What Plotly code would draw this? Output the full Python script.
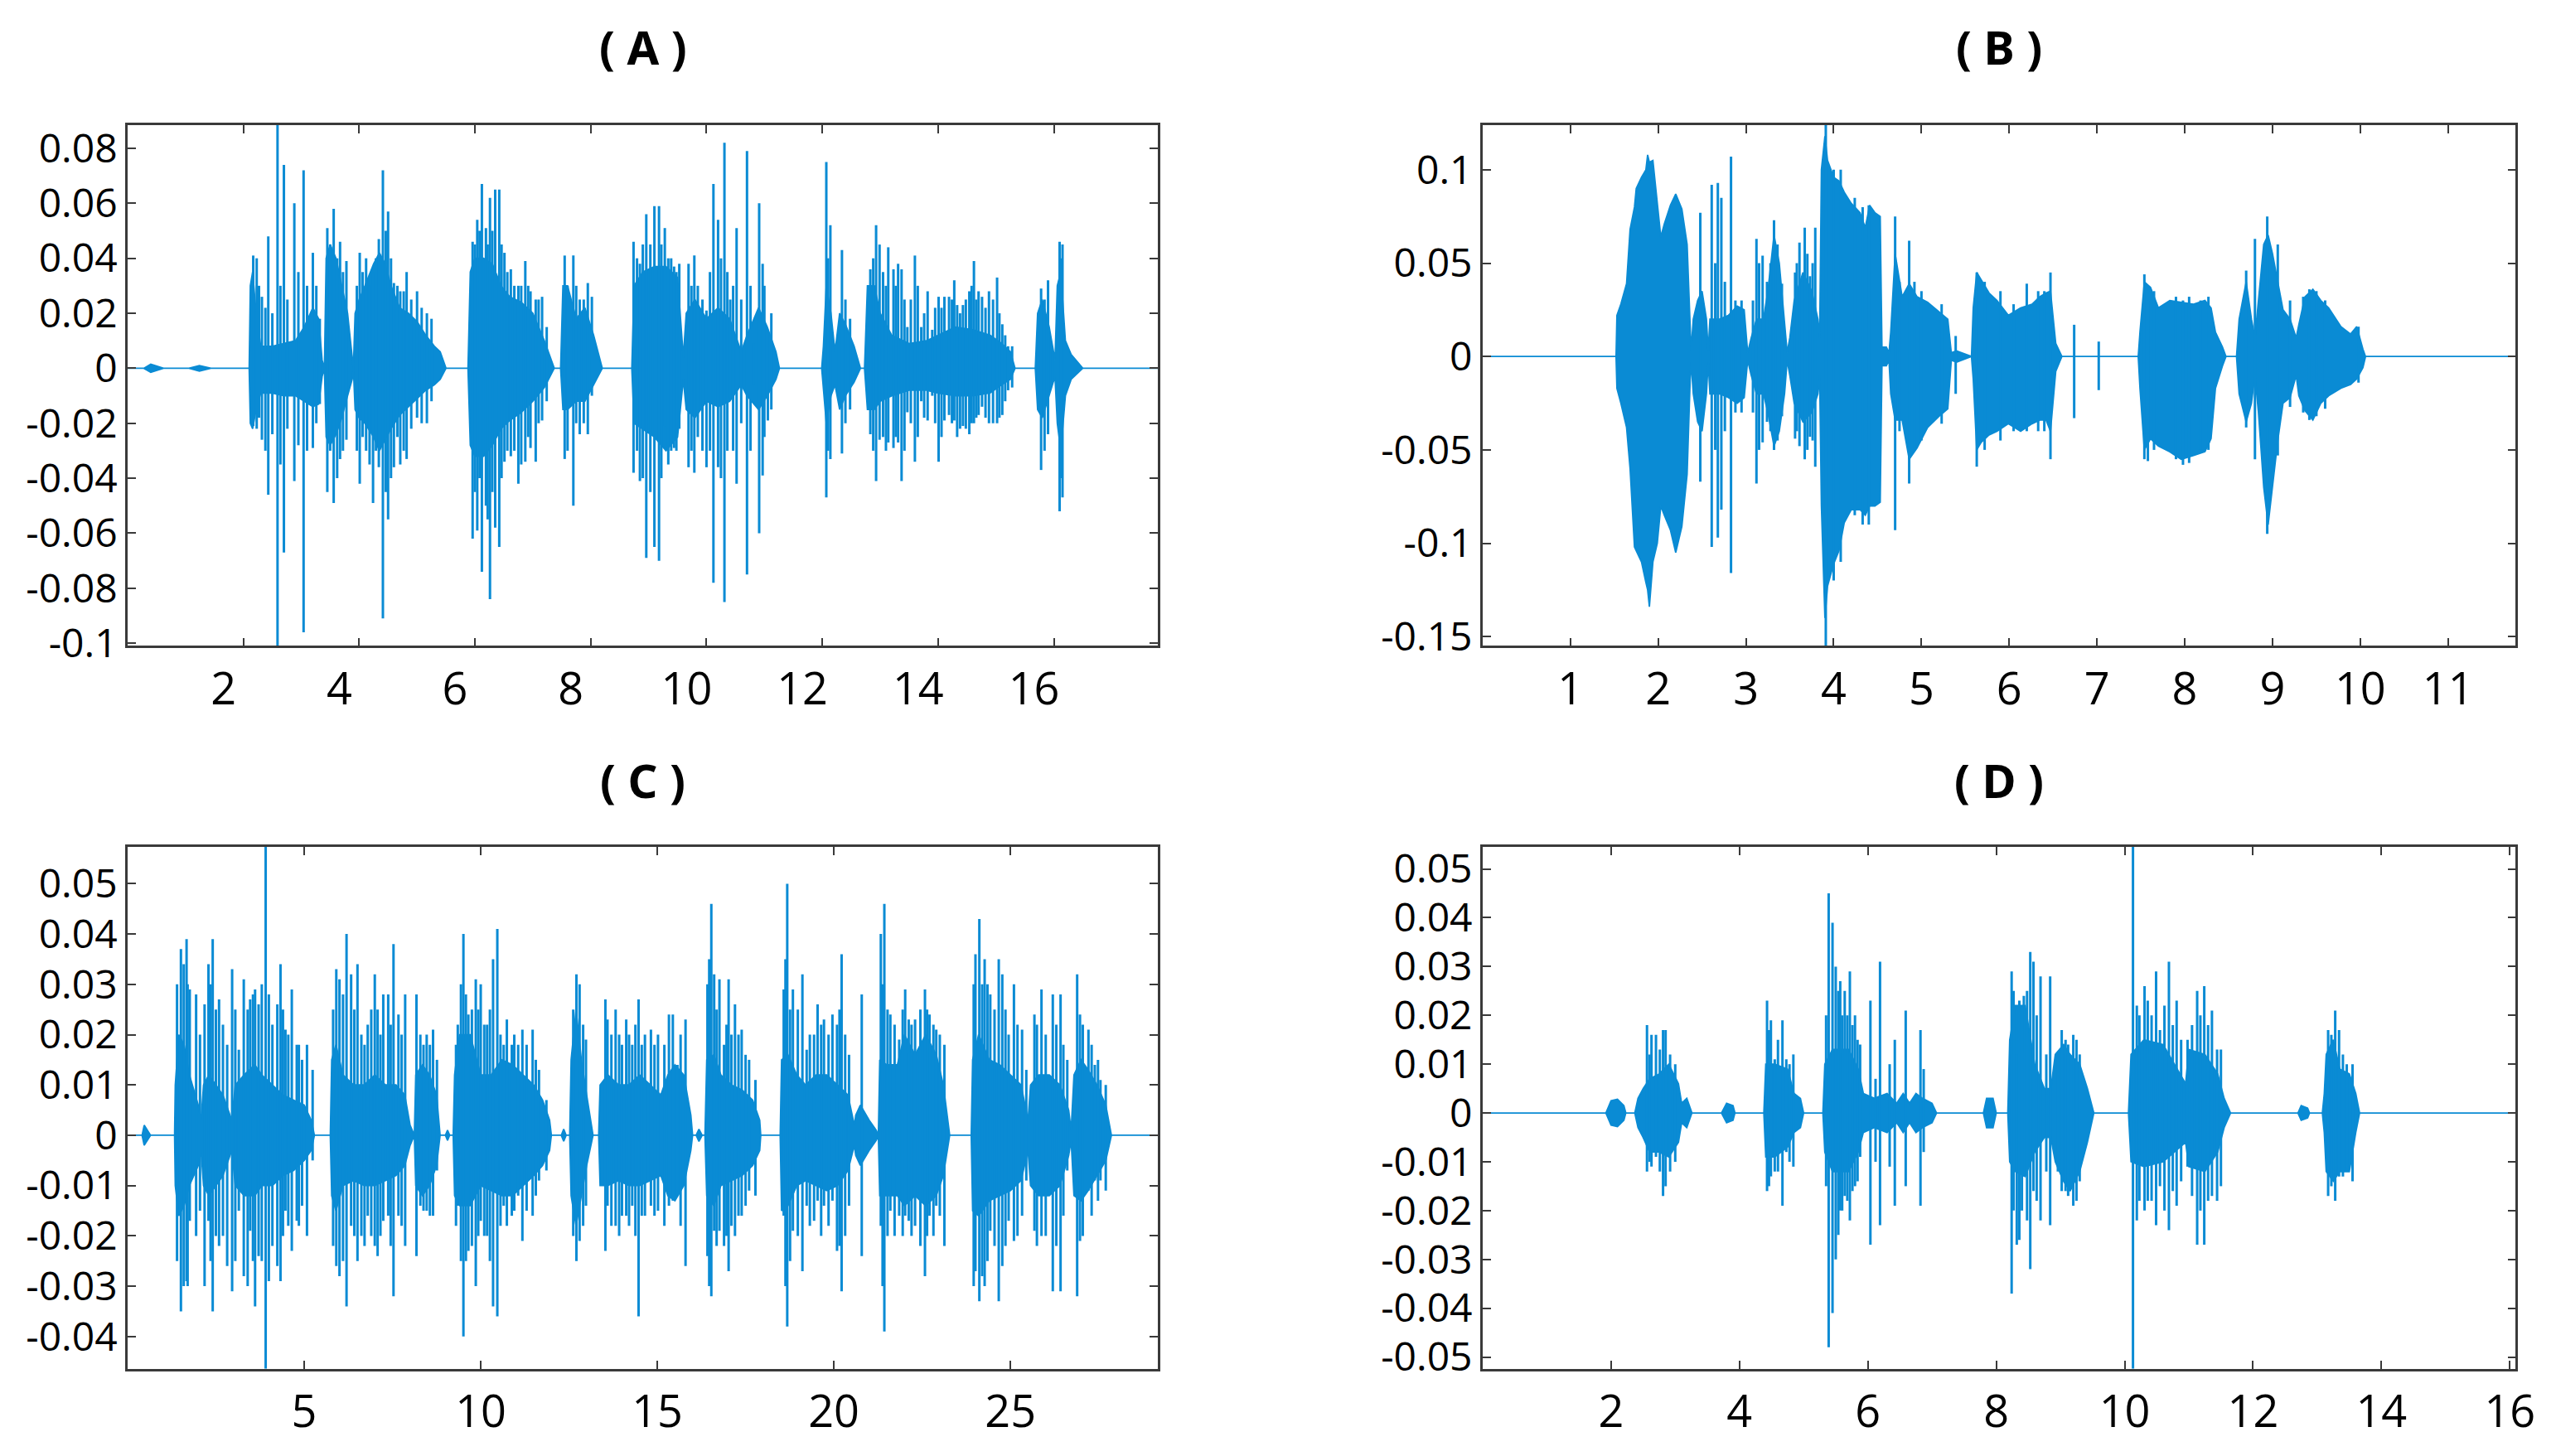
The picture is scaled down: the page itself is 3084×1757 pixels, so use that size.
import plotly.graph_objects as go
from plotly.subplots import make_subplots

BLUE = "#0A8BD4"
AXIS = "#3a3a3a"

# ---- (A) speech waveform: body envelope (s, upper, lower) ----
A_body_t = [0, 0.28, 0.40, 0.62, 1.06, 1.24, 1.44, 2.10,
            2.12, 2.16, 2.22, 2.30, 2.50, 2.70, 2.90, 3.05, 3.20, 3.30, 3.36,
            3.40, 3.43, 3.50, 3.60, 3.70, 3.80, 3.88,
            3.90, 3.93, 4.00, 4.10, 4.25, 4.35, 4.45, 4.55, 4.70, 4.85, 5.00, 5.15, 5.30, 5.40, 5.50,
            5.88, 5.92, 6.00, 6.15, 6.30, 6.45, 6.60, 6.80, 7.00, 7.20, 7.37,
            7.48, 7.52, 7.60, 7.75, 7.90, 8.05, 8.20,
            8.71, 8.75, 8.90, 9.10, 9.30, 9.50, 9.60, 9.65, 9.80, 10.00, 10.20, 10.40, 10.60, 10.70, 10.90, 11.05, 11.20, 11.26,
            11.99, 12.02, 12.07, 12.15, 12.22, 12.30, 12.40, 12.55, 12.66,
            12.73, 12.78, 12.90, 13.00, 13.20, 13.50, 13.80, 14.00, 14.30, 14.60, 14.90, 15.10, 15.25, 15.33,
            15.68, 15.72, 15.80, 15.92, 16.02, 16.06, 16.12, 16.20, 16.30, 16.50, 17.80]
A_body_hi = [0, 0, 0.0015, 0, 0, 0.001, 0, 0,
             0.030, 0.035, 0.020, 0.008, 0.008, 0.009, 0.010, 0.015, 0.022, 0.018, 0.003,
             0, 0.040, 0.045, 0.040, 0.030, 0.020, 0.004,
             0, 0.020, 0.025, 0.030, 0.038, 0.042, 0.038, 0.030, 0.022, 0.020, 0.017, 0.012, 0.008, 0.006, 0,
             0, 0.035, 0.040, 0.040, 0.038, 0.030, 0.026, 0.024, 0.020, 0.010, 0,
             0, 0.030, 0.030, 0.018, 0.022, 0.012, 0,
             0, 0.030, 0.035, 0.037, 0.037, 0.033, 0.004, 0.020, 0.025, 0.018, 0.022, 0.018, 0.006, 0.012, 0.022, 0.015, 0.006, 0,
             0, 0.008, 0.030, 0.020, 0.006, 0.020, 0.016, 0.008, 0,
             0, 0.030, 0.030, 0.020, 0.012, 0.009, 0.010, 0.012, 0.015, 0.014, 0.012, 0.009, 0.006, 0,
             0, 0.020, 0.025, 0.015, 0.003, 0.030, 0.035, 0.010, 0.005, 0, 0]
A_body_lo = [0, 0, -0.0015, 0, 0, -0.001, 0, 0,
             -0.020, -0.022, -0.015, -0.009, -0.009, -0.010, -0.010, -0.012, -0.014, -0.013, -0.003,
             0, -0.025, -0.028, -0.024, -0.018, -0.010, -0.004,
             0, -0.015, -0.018, -0.020, -0.025, -0.030, -0.026, -0.022, -0.017, -0.014, -0.011, -0.008, -0.006, -0.004, 0,
             0, -0.028, -0.032, -0.032, -0.028, -0.022, -0.019, -0.016, -0.012, -0.007, 0,
             0, -0.015, -0.015, -0.012, -0.012, -0.006, 0,
             0, -0.020, -0.022, -0.025, -0.030, -0.025, -0.004, -0.015, -0.018, -0.012, -0.014, -0.012, -0.006, -0.010, -0.015, -0.010, -0.004, 0,
             0, -0.008, -0.020, -0.010, -0.006, -0.015, -0.010, -0.005, 0,
             0, -0.015, -0.015, -0.012, -0.010, -0.008, -0.008, -0.009, -0.010, -0.010, -0.009, -0.006, -0.004, 0,
             0, -0.015, -0.018, -0.010, -0.003, -0.020, -0.030, -0.010, -0.004, 0, 0]
# (A) tall individual peaks
A_spk_t = [2.17, 2.23, 2.32, 2.43, 2.59, 2.70, 2.88, 3.04, 3.20, 3.32,
           3.45, 3.56, 3.67, 3.78,
           4.01, 4.12, 4.24, 4.34, 4.41, 4.50, 4.60, 4.71, 4.82, 5.00, 5.17, 5.25,
           5.96, 6.04, 6.12, 6.19, 6.26, 6.35, 6.42, 6.51, 6.62, 6.75, 6.87, 6.96, 7.05, 7.16,
           7.55, 7.70, 7.81, 7.95, 8.02,
           8.74, 8.85, 8.96, 9.10, 9.18, 9.28, 9.34, 9.44, 9.53, 9.69, 9.79, 10.00, 10.12, 10.20, 10.31, 10.41, 10.52, 10.70, 10.81, 10.91, 10.97, 11.06,
           12.07, 12.14, 12.24, 12.34,
           12.83, 12.93, 12.99, 13.14, 13.23, 13.31, 13.37, 13.47, 13.60, 13.71, 13.82, 13.90, 14.01, 14.11, 14.19, 14.28, 14.33, 14.43, 14.54, 14.62, 14.70, 14.76, 14.88, 15.02, 15.11, 15.21, 15.28,
           15.78, 15.90, 15.98, 16.10, 16.15]
A_spk_hi = [0.041, 0.040, 0.026, 0.048, 0.0885, 0.074, 0.060, 0.072, 0.042, 0.018,
            0.051, 0.058, 0.046, 0.039,
            0.042, 0.040, 0.035, 0.047, 0.072, 0.057, 0.031, 0.028, 0.035, 0.028, 0.020, 0.018,
            0.046, 0.054, 0.067, 0.051, 0.062, 0.065, 0.065, 0.042, 0.036, 0.030, 0.039, 0.028, 0.025, 0.026,
            0.041, 0.041, 0.025, 0.031, 0.026,
            0.046, 0.038, 0.056, 0.059, 0.059, 0.051, 0.040, 0.037, 0.038, 0.038, 0.041, 0.021, 0.067, 0.054, 0.082, 0.025, 0.051, 0.079, 0.009, 0.060, 0.038, 0.013,
            0.075, 0.052, 0.009, 0.043,
            0.036, 0.052, 0.045, 0.044, 0.036, 0.038, 0.036, 0.015, 0.041, 0.015, 0.028, 0.014, 0.026, 0.026, 0.026, 0.032, 0.023, 0.023, 0.028, 0.039, 0.028, 0.026, 0.028, 0.033, 0.016, 0.008, 0.008,
            0.029, 0.032, 0.006, 0.046, 0.045]
A_spk_lo = [-0.021, -0.022, -0.026, -0.046, -0.101, -0.067, -0.041, -0.096, -0.029, -0.013,
            -0.045, -0.049, -0.033, -0.026,
            -0.042, -0.030, -0.049, -0.036, -0.091, -0.055, -0.036, -0.035, -0.033, -0.018, -0.020, -0.012,
            -0.062, -0.059, -0.074, -0.050, -0.084, -0.058, -0.065, -0.034, -0.032, -0.042, -0.034, -0.029, -0.034, -0.019,
            -0.033, -0.050, -0.024, -0.024, -0.010,
            -0.038, -0.041, -0.069, -0.065, -0.070, -0.021, -0.035, -0.029, -0.022, -0.036, -0.038, -0.036, -0.078, -0.036, -0.085, -0.011, -0.042, -0.075, -0.006, -0.060, -0.039, -0.019,
            -0.047, -0.033, -0.007, -0.031,
            -0.024, -0.041, -0.026, -0.027, -0.029, -0.027, -0.041, -0.016, -0.034, -0.012, -0.019, -0.010, -0.034, -0.019, -0.017, -0.019, -0.025, -0.021, -0.024, -0.020, -0.017, -0.014, -0.020, -0.020, -0.017, -0.008, -0.007,
            -0.037, -0.024, -0.005, -0.052, -0.047]
# (A) smaller peaks inside the voiced parts
A_pk2_t = [2.27, 2.38, 2.50, 2.64, 2.76, 2.95, 3.10, 3.26,
           3.50, 3.62, 3.72,
           3.96, 4.06, 4.18, 4.29, 4.46, 4.55, 4.66, 4.77, 4.90, 5.08,
           6.00, 6.08, 6.22, 6.30, 6.46, 6.56, 6.68, 6.80, 6.92, 7.10, 7.24,
           7.60, 7.75, 7.88,
           8.80, 8.90, 9.03, 9.22, 9.39, 9.48, 9.74, 9.85, 9.93, 10.06, 10.25, 10.36, 10.46, 10.60, 10.76, 11.00, 11.12,
           12.10, 12.40, 12.48,
           12.88, 13.05, 13.10, 13.27, 13.42, 13.53, 13.65, 13.76, 13.95, 14.06, 14.24, 14.38, 14.48, 14.58, 14.66, 14.82, 14.95, 15.06, 15.16,
           15.84, 16.12]
A_pk2_hi = [0.030, 0.022, 0.020, 0.030, 0.025, 0.035, 0.030, 0.030,
            0.045, 0.040, 0.035,
            0.030, 0.035, 0.030, 0.040, 0.050, 0.040, 0.030, 0.028, 0.025, 0.022,
            0.045, 0.050, 0.045, 0.050, 0.045, 0.035, 0.030, 0.030, 0.030, 0.025, 0.015,
            0.030, 0.030, 0.025,
            0.040, 0.045, 0.045, 0.045, 0.040, 0.035, 0.030, 0.030, 0.025, 0.035, 0.040, 0.035, 0.030, 0.025, 0.030, 0.030, 0.020,
            0.040, 0.025, 0.018,
            0.040, 0.035, 0.030, 0.030, 0.025, 0.025, 0.030, 0.020, 0.022, 0.022, 0.025, 0.020, 0.025, 0.030, 0.025, 0.022, 0.025, 0.020, 0.012,
            0.025, 0.040]
A_pk2_lo = [-0.018, -0.030, -0.024, -0.035, -0.022, -0.028, -0.030, -0.020,
            -0.030, -0.040, -0.030,
            -0.030, -0.025, -0.035, -0.030, -0.045, -0.040, -0.025, -0.030, -0.022, -0.020,
            -0.045, -0.040, -0.055, -0.045, -0.040, -0.030, -0.030, -0.035, -0.025, -0.020, -0.012,
            -0.030, -0.020, -0.020,
            -0.030, -0.040, -0.045, -0.040, -0.030, -0.030, -0.030, -0.025, -0.030, -0.030, -0.040, -0.030, -0.030, -0.020, -0.030, -0.025, -0.015,
            -0.030, -0.020, -0.015,
            -0.030, -0.025, -0.030, -0.025, -0.030, -0.020, -0.025, -0.018, -0.020, -0.025, -0.020, -0.022, -0.022, -0.020, -0.018, -0.018, -0.020, -0.018, -0.012,
            -0.030, -0.040]

# ---- (B) ----
B_body_t = [0, 1.52,
            1.53, 1.575, 1.64, 1.68, 1.73, 1.75, 1.81, 1.86, 1.88, 1.90, 1.94, 1.99, 2.03, 2.07, 2.14, 2.20, 2.27, 2.33, 2.365, 2.375,
            2.40, 2.45, 2.50, 2.55, 2.57,
            2.59, 2.70, 2.80, 2.90, 2.98, 3.02,
            3.06, 3.12, 3.20, 3.25, 3.32, 3.38, 3.44, 3.47,
            3.50, 3.55, 3.65, 3.75, 3.82, 3.84,
            3.86, 3.90, 3.93, 4.00, 4.06, 4.12, 4.20, 4.30, 4.36, 4.41, 4.47, 4.53, 4.55, 4.60, 4.63,
            4.65, 4.70, 4.78, 4.86, 4.95, 5.07, 5.20, 5.30, 5.34, 5.40,
            5.57, 5.59, 5.63, 5.68, 5.77, 5.86, 5.99, 6.13, 6.26, 6.35, 6.42, 6.47, 6.53, 6.60,
            7.47, 7.49, 7.54, 7.61, 7.70, 7.83, 7.96, 8.10, 8.23, 8.30, 8.35, 8.43, 8.47,
            8.59, 8.62, 8.70, 8.76, 8.80, 8.84, 8.90, 8.95, 9.00, 9.06, 9.12, 9.20, 9.27, 9.30, 9.37, 9.46, 9.55, 9.64, 9.78, 9.89, 9.96, 10.03, 10.06, 11.77]
B_body_hi = [0, 0,
             0.022, 0.028, 0.039, 0.068, 0.080, 0.090, 0.096, 0.100, 0.108, 0.104, 0.105, 0.083, 0.064, 0.071, 0.081, 0.087, 0.079, 0.060, 0.013, 0.003,
             0.020, 0.030, 0.035, 0.020, 0.003,
             0.020, 0.020, 0.022, 0.027, 0.025, 0.002,
             0.010, 0.020, 0.020, 0.035, 0.065, 0.050, 0.020, 0.002,
             0.010, 0.030, 0.045, 0.035, 0.020, 0.010,
             0.100, 0.118, 0.105, 0.096, 0.094, 0.088, 0.082, 0.077, 0.069, 0.081, 0.077, 0.075, 0.005, 0.005, 0.002,
             0.013, 0.055, 0.032, 0.039, 0.032, 0.029, 0.024, 0.020, 0.002, 0.003,
             0, 0.026, 0.045, 0.041, 0.034, 0.030, 0.022, 0.026, 0.028, 0.032, 0.034, 0.035, 0.007, 0,
             0, 0.013, 0.040, 0.037, 0.026, 0.030, 0.029, 0.028, 0.030, 0.026, 0.013, 0.005, 0,
             0, 0.020, 0.040, 0.020, 0.010, 0.030, 0.060, 0.065, 0.055, 0.040, 0.025, 0.020, 0.010, 0.017, 0.032, 0.036, 0.030, 0.026, 0.016, 0.012, 0.016, 0.004, 0, 0]
B_body_lo = [0, 0,
             -0.017, -0.025, -0.038, -0.060, -0.102, -0.104, -0.110, -0.121, -0.125, -0.134, -0.110, -0.100, -0.080, -0.085, -0.093, -0.105, -0.091, -0.063, -0.012, -0.003,
             -0.020, -0.035, -0.040, -0.020, -0.003,
             -0.020, -0.020, -0.022, -0.025, -0.022, -0.002,
             -0.010, -0.020, -0.020, -0.030, -0.048, -0.040, -0.020, -0.002,
             -0.010, -0.025, -0.035, -0.030, -0.020, -0.010,
             -0.080, -0.140, -0.123, -0.111, -0.104, -0.089, -0.082, -0.082, -0.085, -0.080, -0.080, -0.078, -0.005, -0.005, -0.002,
             -0.020, -0.034, -0.034, -0.055, -0.049, -0.038, -0.032, -0.028, -0.002, -0.003,
             0, -0.012, -0.050, -0.046, -0.042, -0.040, -0.036, -0.040, -0.036, -0.034, -0.034, -0.040, -0.008, 0,
             0, -0.017, -0.050, -0.044, -0.048, -0.051, -0.055, -0.053, -0.051, -0.044, -0.017, -0.005, 0,
             0, -0.020, -0.035, -0.025, -0.010, -0.030, -0.070, -0.090, -0.070, -0.045, -0.025, -0.022, -0.010, -0.021, -0.029, -0.034, -0.025, -0.021, -0.017, -0.015, -0.012, -0.006, 0, 0]
B_spk_t = [2.48, 2.61, 2.68, 2.72, 2.83, 3.12, 3.19, 3.32, 3.41, 3.56, 3.61, 3.67, 3.73, 3.79, 3.91, 4.00, 4.40,
           4.70, 4.86, 5.23, 5.39, 5.63, 6.20, 6.47, 6.74, 7.02, 7.54, 7.58, 7.98, 8.70, 8.80, 8.94, 9.06, 9.20]
B_spk_hi = [0.077, 0.092, 0.093, 0.085, 0.107, 0.063, 0.054, 0.073, 0.039, 0.045, 0.061, 0.069, 0.043, 0.069, 0.124, 0.100, 0.081,
            0.075, 0.062, 0.028, 0.011, 0.045, 0.039, 0.045, 0.017, 0.008, 0.044, 0.030, 0.030, 0.046, 0.063, 0.075, 0.060, 0.030]
B_spk_lo = [-0.067, -0.102, -0.097, -0.082, -0.116, -0.068, -0.046, -0.050, -0.032, -0.044, -0.048, -0.055, -0.043, -0.059, -0.155, -0.120, -0.090,
            -0.093, -0.068, -0.036, -0.020, -0.059, -0.040, -0.055, -0.033, -0.018, -0.055, -0.056, -0.058, -0.038, -0.055, -0.095, -0.053, -0.027]
B_pk2_t = [2.65, 2.76, 2.88, 2.95, 3.08, 3.15, 3.24, 3.28, 3.36, 3.58, 3.70, 3.76, 4.08, 4.24, 4.33,
           4.75, 4.92, 5.00, 5.72, 5.90, 6.05, 6.33, 6.40, 7.65, 7.90, 8.05, 8.18, 8.27, 9.35, 9.42, 9.50, 9.60, 9.98]
B_pk2_hi = [0.050, 0.040, 0.030, 0.030, 0.030, 0.050, 0.040, 0.050, 0.060, 0.050, 0.055, 0.050, 0.100, 0.085, 0.080,
            0.040, 0.040, 0.035, 0.040, 0.035, 0.028, 0.035, 0.035, 0.035, 0.032, 0.032, 0.030, 0.032, 0.032, 0.036, 0.035, 0.030, 0.016]
B_pk2_lo = [-0.050, -0.040, -0.030, -0.030, -0.030, -0.050, -0.035, -0.040, -0.045, -0.040, -0.050, -0.045, -0.110, -0.085, -0.090,
            -0.040, -0.050, -0.045, -0.050, -0.045, -0.040, -0.040, -0.040, -0.050, -0.055, -0.057, -0.050, -0.050, -0.030, -0.034, -0.032, -0.028, -0.014]

# ---- (C) ----
C_body_t = [0, 0.41, 0.47, 0.65, 1.33,
            1.35, 1.45, 1.60, 1.75, 2.00, 2.08, 2.15, 2.30, 2.50, 2.70, 2.95, 3.05, 3.30, 3.60, 3.80, 4.10, 4.40, 4.70, 5.00, 5.20, 5.29,
            5.74, 5.78, 5.90, 6.10, 6.40, 6.70, 7.00, 7.30, 7.60, 7.85, 8.00,
            8.12, 8.16, 8.35, 8.55, 8.75, 8.85,
            9.00, 9.06, 9.12,
            9.22, 9.26, 9.40, 9.70, 10.00, 10.30, 10.60, 10.90, 11.20, 11.50, 11.75, 11.95, 12.00,
            12.28, 12.35, 12.42,
            12.52, 12.56, 12.70, 12.85, 13.00, 13.18,
            13.34, 13.38, 13.60, 13.90, 14.20, 14.50, 14.80, 15.10, 15.30, 15.50, 15.75, 15.95, 16.00,
            16.10, 16.18, 16.27,
            16.35, 16.40, 16.60, 16.80, 17.10, 17.40, 17.70, 17.90, 17.93,
            18.48, 18.52, 18.70, 18.95, 19.20, 19.50, 19.80, 20.10, 20.40, 20.58,
            20.62, 20.75, 21.00, 21.20, 21.26,
            21.30, 21.50, 21.80, 22.00, 22.30, 22.60, 22.90, 23.10, 23.28,
            23.89, 23.93, 24.10, 24.40, 24.70, 25.00, 25.30, 25.50,
            25.57, 25.80, 26.10, 26.40, 26.65, 26.72,
            26.80, 27.00, 27.20, 27.45, 27.70, 27.86, 29.18]
C_body_hi = [0, 0, 0.002, 0, 0,
             0.010, 0.020, 0.018, 0.012, 0.006, 0.003, 0.010, 0.012, 0.010, 0.008, 0.003, 0.010, 0.012, 0.014, 0.012, 0.010, 0.008, 0.007, 0.006, 0.003, 0,
             0, 0.015, 0.018, 0.012, 0.010, 0.010, 0.012, 0.010, 0.010, 0.008, 0.002,
             0, 0.012, 0.014, 0.012, 0.008, 0,
             0, 0.001, 0,
             0, 0.012, 0.020, 0.020, 0.012, 0.012, 0.015, 0.014, 0.012, 0.010, 0.007, 0.003, 0,
             0, 0.0012, 0,
             0, 0.015, 0.025, 0.015, 0.008, 0,
             0, 0.010, 0.012, 0.010, 0.010, 0.012, 0.010, 0.008, 0.012, 0.014, 0.012, 0.004, 0,
             0, 0.0012, 0,
             0, 0.015, 0.016, 0.012, 0.010, 0.009, 0.007, 0.003, 0,
             0, 0.015, 0.016, 0.012, 0.010, 0.012, 0.012, 0.010, 0.008, 0.002,
             0.004, 0.006, 0.003, 0.001, 0,
             0.015, 0.014, 0.014, 0.020, 0.016, 0.020, 0.016, 0.010, 0,
             0, 0.015, 0.020, 0.015, 0.014, 0.012, 0.010, 0.003,
             0.010, 0.012, 0.012, 0.010, 0.005, 0.001,
             0.012, 0.015, 0.013, 0.010, 0.006, 0, 0]
C_body_lo = [0, 0, -0.002, 0, 0,
             -0.010, -0.016, -0.014, -0.010, -0.006, -0.003, -0.010, -0.012, -0.010, -0.008, -0.003, -0.010, -0.012, -0.012, -0.010, -0.010, -0.008, -0.007, -0.005, -0.003, 0,
             0, -0.012, -0.015, -0.010, -0.009, -0.010, -0.010, -0.009, -0.008, -0.006, -0.002,
             0, -0.010, -0.012, -0.010, -0.006, 0,
             0, -0.001, 0,
             0, -0.012, -0.014, -0.014, -0.010, -0.011, -0.012, -0.012, -0.010, -0.008, -0.006, -0.003, 0,
             0, -0.0012, 0,
             0, -0.012, -0.018, -0.012, -0.006, 0,
             0, -0.010, -0.010, -0.009, -0.010, -0.010, -0.009, -0.008, -0.012, -0.013, -0.010, -0.003, 0,
             0, -0.0012, 0,
             0, -0.012, -0.014, -0.010, -0.009, -0.008, -0.006, -0.003, 0,
             0, -0.015, -0.014, -0.010, -0.009, -0.010, -0.011, -0.010, -0.007, -0.002,
             -0.004, -0.006, -0.003, -0.001, 0,
             -0.012, -0.012, -0.012, -0.014, -0.012, -0.014, -0.012, -0.008, 0,
             0, -0.015, -0.016, -0.013, -0.012, -0.011, -0.009, -0.003,
             -0.010, -0.012, -0.012, -0.010, -0.004, -0.001,
             -0.012, -0.013, -0.011, -0.008, -0.005, 0, 0]
C_spk_t = [1.51, 1.59, 1.67, 1.76, 1.94, 2.18, 2.29, 2.41, 2.59, 2.82, 2.96, 3.15, 3.29, 3.47, 3.61, 3.71, 3.91, 4.00, 4.24, 4.33, 4.47, 4.65, 4.79, 4.94, 5.08, 5.24,
           5.91, 6.00, 6.20, 6.33, 6.51, 6.71, 6.80, 7.00, 7.08, 7.24, 7.38, 7.53, 7.67, 7.86, 8.18, 8.29, 8.47, 8.65, 8.76,
           9.35, 9.51, 9.65, 9.86, 10.00, 10.18, 10.35, 10.47, 10.65, 10.74, 10.88, 11.06, 11.18, 11.47, 11.65, 11.86,
           12.71, 12.80, 12.98,
           13.53, 13.59, 13.82, 14.00, 14.12, 14.29, 14.47, 14.65, 14.82, 15.02, 15.33, 15.44, 15.57, 15.80,
           16.42, 16.53, 16.61, 16.76, 16.89, 17.02, 17.20, 17.39, 17.60, 17.78,
           18.58, 18.68, 18.84, 19.11, 19.23, 19.44, 19.54, 19.72, 19.96, 20.09, 20.22, 20.43, 20.79,
           21.33, 21.43, 21.60, 21.85, 22.02, 22.12, 22.30, 22.58, 22.71, 22.90, 23.13,
           24.01, 24.12, 24.27, 24.43, 24.67, 24.77, 24.95, 25.10, 25.33, 25.45,
           25.68, 25.88, 26.20, 26.42, 26.61,
           26.89, 26.97, 27.21, 27.39, 27.55, 27.70]
C_spk_hi = [0.037, 0.034, 0.039, 0.029, 0.028, 0.026, 0.034, 0.039, 0.027, 0.018, 0.033, 0.017, 0.031, 0.027, 0.029, 0.026, 0.0573, 0.028, 0.026, 0.034, 0.021, 0.029, 0.018, 0.015, 0.018, 0.013,
            0.033, 0.031, 0.040, 0.032, 0.034, 0.018, 0.022, 0.032, 0.025, 0.028, 0.028, 0.038, 0.024, 0.028, 0.028, 0.020, 0.020, 0.021, 0.015,
            0.022, 0.040, 0.024, 0.031, 0.030, 0.022, 0.035, 0.041, 0.018, 0.023, 0.018, 0.018, 0.021, 0.021, 0.013, 0.007,
            0.032, 0.030, 0.019,
            0.027, 0.023, 0.025, 0.018, 0.023, 0.018, 0.027, 0.020, 0.021, 0.020, 0.024, 0.024, 0.014, 0.023,
            0.030, 0.046, 0.032, 0.031, 0.018, 0.031, 0.026, 0.021, 0.015, 0.011,
            0.029, 0.050, 0.029, 0.032, 0.017, 0.020, 0.026, 0.023, 0.024, 0.022, 0.036, 0.016, 0.028,
            0.040, 0.046, 0.024, 0.019, 0.029, 0.023, 0.023, 0.029, 0.024, 0.021, 0.018,
            0.036, 0.043, 0.035, 0.028, 0.035, 0.032, 0.020, 0.030, 0.021, 0.013,
            0.024, 0.029, 0.028, 0.028, 0.015,
            0.032, 0.024, 0.021, 0.014, 0.011, 0.010]
C_spk_lo = [-0.035, -0.030, -0.029, -0.017, -0.020, -0.030, -0.017, -0.035, -0.022, -0.026, -0.031, -0.015, -0.028, -0.019, -0.034, -0.024, -0.0464, -0.029, -0.026, -0.029, -0.015, -0.023, -0.017, -0.014, -0.020, -0.005,
            -0.026, -0.028, -0.034, -0.018, -0.025, -0.022, -0.016, -0.022, -0.024, -0.017, -0.016, -0.032, -0.016, -0.022, -0.024, -0.014, -0.015, -0.016, -0.007,
            -0.014, -0.040, -0.023, -0.030, -0.017, -0.020, -0.034, -0.036, -0.014, -0.018, -0.016, -0.012, -0.021, -0.016, -0.009, -0.007,
            -0.025, -0.021, -0.014,
            -0.023, -0.014, -0.018, -0.016, -0.016, -0.014, -0.036, -0.016, -0.014, -0.015, -0.014, -0.013, -0.012, -0.026,
            -0.024, -0.032, -0.019, -0.019, -0.022, -0.027, -0.020, -0.016, -0.011, -0.012,
            -0.016, -0.038, -0.019, -0.027, -0.014, -0.017, -0.013, -0.014, -0.013, -0.023, -0.031, -0.014, -0.024,
            -0.018, -0.039, -0.015, -0.016, -0.016, -0.017, -0.018, -0.028, -0.016, -0.014, -0.022,
            -0.027, -0.033, -0.030, -0.019, -0.033, -0.026, -0.017, -0.021, -0.016, -0.009,
            -0.019, -0.020, -0.031, -0.031, -0.007,
            -0.032, -0.021, -0.011, -0.009, -0.009, -0.011]
C_pk2_t = [1.40, 1.70, 2.05, 2.35, 2.50, 2.70, 3.05, 3.40, 3.55, 3.80, 4.10, 4.40, 4.55, 4.85,
           5.82, 6.10, 6.42, 6.62, 6.90, 7.16, 7.45, 7.76, 8.38, 8.56,
           9.30, 9.44, 9.58, 9.75, 9.93, 10.10, 10.26, 10.56, 10.95, 11.30, 11.56,
           12.62, 12.90, 13.70, 13.92, 14.20, 14.38, 14.56, 14.92, 15.20, 15.66,
           16.47, 16.68, 16.96, 17.10, 17.30, 17.50,
           18.63, 18.76, 18.98, 19.32, 19.64, 19.85, 20.16, 20.32,
           21.38, 21.52, 21.72, 21.95, 22.20, 22.45, 22.64, 22.82, 23.00,
           23.96, 24.20, 24.35, 24.55, 24.86, 25.20, 25.75, 26.00, 26.30, 26.50, 27.05, 27.30, 27.48]
C_pk2_hi = [0.030, 0.030, 0.020, 0.030, 0.025, 0.022, 0.025, 0.025, 0.028, 0.030, 0.022, 0.025, 0.020, 0.018,
            0.025, 0.028, 0.025, 0.020, 0.025, 0.020, 0.022, 0.020, 0.018, 0.018,
            0.018, 0.030, 0.028, 0.025, 0.025, 0.022, 0.025, 0.020, 0.020, 0.018, 0.015,
            0.025, 0.022, 0.020, 0.020, 0.020, 0.022, 0.018, 0.018, 0.018, 0.020,
            0.035, 0.025, 0.022, 0.020, 0.020, 0.016,
            0.035, 0.025, 0.025, 0.020, 0.022, 0.020, 0.025, 0.020,
            0.030, 0.025, 0.022, 0.025, 0.022, 0.025, 0.025, 0.022, 0.020,
            0.030, 0.030, 0.030, 0.025, 0.025, 0.022, 0.022, 0.020, 0.022, 0.018, 0.022, 0.018, 0.015]
C_pk2_lo = [-0.025, -0.030, -0.015, -0.025, -0.020, -0.020, -0.025, -0.030, -0.025, -0.025, -0.022, -0.020, -0.018, -0.018,
            -0.022, -0.025, -0.020, -0.020, -0.020, -0.020, -0.022, -0.018, -0.015, -0.016,
            -0.018, -0.025, -0.025, -0.022, -0.020, -0.020, -0.025, -0.018, -0.015, -0.015, -0.012,
            -0.020, -0.018, -0.018, -0.020, -0.018, -0.020, -0.016, -0.016, -0.018, -0.018,
            -0.030, -0.022, -0.020, -0.018, -0.016, -0.014,
            -0.030, -0.025, -0.020, -0.018, -0.020, -0.018, -0.022, -0.020,
            -0.030, -0.020, -0.020, -0.020, -0.020, -0.022, -0.020, -0.020, -0.016,
            -0.030, -0.028, -0.025, -0.022, -0.022, -0.020, -0.022, -0.020, -0.022, -0.016, -0.020, -0.016, -0.013]

# ---- (D) ----
D_body_t = [0, 1.92, 2.00, 2.10, 2.20, 2.23,
            2.37, 2.42, 2.50, 2.60, 2.75, 2.90, 3.05, 3.10, 3.18, 3.26,
            3.72, 3.80, 3.90, 3.93,
            4.38, 4.41, 4.55, 4.75, 4.85, 4.95, 5.00,
            5.30, 5.33, 5.45, 5.70, 5.85, 5.93, 6.10, 6.30, 6.45, 6.55, 6.65, 6.75, 6.85, 7.00, 7.07,
            7.80, 7.85, 7.95, 8.00,
            8.18, 8.21, 8.30, 8.45, 8.60, 8.75, 8.85, 8.92, 9.05, 9.15, 9.30, 9.42, 9.52,
            10.06, 10.10, 10.30, 10.60, 10.95, 11.00, 11.25, 11.45, 11.55, 11.65,
            12.70, 12.75, 12.85, 12.88,
            13.08, 13.11, 13.14, 13.25, 13.35, 13.50, 13.60, 13.66, 16.09]
D_body_hi = [0, 0, 0.0025, 0.0028, 0.0015, 0,
             0, 0.003, 0.005, 0.007, 0.008, 0.010, 0.006, 0.002, 0.003, 0,
             0, 0.002, 0.0015, 0,
             0, 0.010, 0.010, 0.009, 0.004, 0.003, 0,
             0, 0.010, 0.013, 0.013, 0.009, 0.004, 0.003, 0.004, 0.002, 0.004, 0.002, 0.004, 0.003, 0.002, 0,
             0, 0.003, 0.003, 0,
             0, 0.015, 0.022, 0.022, 0.010, 0.005, 0.005, 0.012, 0.014, 0.012, 0.010, 0.005, 0,
             0, 0.012, 0.015, 0.014, 0.006, 0.013, 0.012, 0.008, 0.003, 0,
             0, 0.0015, 0.001, 0,
             0, 0.004, 0.012, 0.015, 0.009, 0.008, 0.004, 0, 0]
D_body_lo = [0, 0, -0.0025, -0.0028, -0.0015, 0,
             0, -0.003, -0.005, -0.008, -0.008, -0.009, -0.006, -0.002, -0.003, 0,
             0, -0.002, -0.0015, 0,
             0, -0.009, -0.009, -0.007, -0.004, -0.003, 0,
             0, -0.008, -0.012, -0.012, -0.008, -0.004, -0.003, -0.004, -0.002, -0.004, -0.002, -0.004, -0.003, -0.002, 0,
             0, -0.003, -0.003, 0,
             0, -0.010, -0.012, -0.013, -0.008, -0.005, -0.005, -0.010, -0.014, -0.016, -0.012, -0.006, 0,
             0, -0.010, -0.011, -0.010, -0.006, -0.011, -0.012, -0.008, -0.003, 0,
             0, -0.0015, -0.001, 0,
             0, -0.004, -0.012, -0.014, -0.012, -0.012, -0.004, 0, 0]
D_spk_t = [2.56, 2.63, 2.70, 2.81, 2.85, 3.00,
           4.43, 4.49, 4.55, 4.67, 4.73, 4.84,
           5.39, 5.45, 5.57, 5.64, 5.72, 5.80, 5.88, 6.04, 6.12, 6.19, 6.34, 6.42, 6.59, 6.82, 6.87,
           8.24, 8.32, 8.36, 8.43, 8.53, 8.58, 8.69, 8.84, 8.96, 9.02, 9.20, 9.25,
           10.13, 10.19, 10.31, 10.36, 10.49, 10.55, 10.69, 10.81, 10.98, 11.13, 11.24, 11.36, 11.44, 11.50,
           13.13, 13.17, 13.28, 13.34, 13.46, 13.55]
D_spk_hi = [0.018, 0.016, 0.016, 0.017, 0.017, 0.010,
            0.023, 0.019, 0.011, 0.019, 0.011, 0.012,
            0.045, 0.039, 0.027, 0.025, 0.029, 0.020, 0.014, 0.023, 0.007, 0.031, 0.010, 0.015, 0.021, 0.017, 0.009,
            0.029, 0.012, 0.023, 0.024, 0.033, 0.031, 0.028, 0.028, 0.012, 0.017, 0.016, 0.015,
            0.0545, 0.022, 0.026, 0.023, 0.029, 0.017, 0.031, 0.023, 0.015, 0.025, 0.026, 0.021, 0.013, 0.013,
            0.004, 0.017, 0.021, 0.017, 0.010, 0.010]
D_spk_lo = [-0.012, -0.011, -0.009, -0.017, -0.015, -0.010,
            -0.016, -0.013, -0.012, -0.019, -0.008, -0.011,
            -0.048, -0.041, -0.020, -0.017, -0.022, -0.015, -0.009, -0.027, -0.010, -0.023, -0.011, -0.019, -0.015, -0.019, -0.008,
            -0.037, -0.027, -0.026, -0.013, -0.032, -0.016, -0.022, -0.023, -0.012, -0.016, -0.019, -0.018,
            -0.0524, -0.022, -0.020, -0.018, -0.023, -0.015, -0.024, -0.019, -0.011, -0.027, -0.027, -0.017, -0.018, -0.015,
            -0.004, -0.017, -0.018, -0.013, -0.012, -0.014]
D_pk2_t = [2.60, 2.76, 2.92, 4.46, 4.60, 4.78,
           5.35, 5.50, 5.54, 5.60, 5.68, 5.76, 5.84,
           8.27, 8.40, 8.48, 8.63, 8.78, 9.08, 9.12, 9.30,
           10.23, 10.42, 10.62, 10.75, 10.88, 11.05, 11.18, 11.30,
           13.22, 13.40]
D_pk2_hi = [0.012, 0.013, 0.012, 0.017, 0.015, 0.010,
            0.020, 0.030, 0.025, 0.020, 0.020, 0.018, 0.015,
            0.025, 0.022, 0.025, 0.020, 0.012, 0.015, 0.014, 0.012,
            0.020, 0.020, 0.022, 0.018, 0.015, 0.018, 0.020, 0.018,
            0.016, 0.012]
D_pk2_lo = [-0.010, -0.012, -0.012, -0.015, -0.012, -0.010,
            -0.015, -0.030, -0.025, -0.020, -0.018, -0.016, -0.014,
            -0.020, -0.020, -0.022, -0.018, -0.012, -0.016, -0.017, -0.014,
            -0.018, -0.018, -0.020, -0.016, -0.014, -0.017, -0.020, -0.018,
            -0.015, -0.013]

# axis ranges and ticks
x_ranges = {"A": [0, 17.8], "B": [0, 11.77], "C": [0, 29.18], "D": [0, 16.09]}
y_ranges = {"A": [-0.101, 0.0885], "B": [-0.155, 0.124], "C": [-0.0464, 0.0573], "D": [-0.0524, 0.0545]}
x_ticks = {"A": [2, 4, 6, 8, 10, 12, 14, 16], "B": list(range(1, 12)),
           "C": [5, 10, 15, 20, 25], "D": [2, 4, 6, 8, 10, 12, 14, 16]}
y_ticks = {"A": [0.08, 0.06, 0.04, 0.02, 0, -0.02, -0.04, -0.06, -0.08, -0.1],
           "B": [0.1, 0.05, 0, -0.05, -0.1, -0.15],
           "C": [0.05, 0.04, 0.03, 0.02, 0.01, 0, -0.01, -0.02, -0.03, -0.04],
           "D": [0.05, 0.04, 0.03, 0.02, 0.01, 0, -0.01, -0.02, -0.03, -0.04, -0.05]}

panels = {
    "A": (1, 1, A_body_t, A_body_hi, A_body_lo, [(A_spk_t, A_spk_hi, A_spk_lo), (A_pk2_t, A_pk2_hi, A_pk2_lo)]),
    "B": (1, 2, B_body_t, B_body_hi, B_body_lo, [(B_spk_t, B_spk_hi, B_spk_lo), (B_pk2_t, B_pk2_hi, B_pk2_lo)]),
    "C": (2, 1, C_body_t, C_body_hi, C_body_lo, [(C_spk_t, C_spk_hi, C_spk_lo), (C_pk2_t, C_pk2_hi, C_pk2_lo)]),
    "D": (2, 2, D_body_t, D_body_hi, D_body_lo, [(D_spk_t, D_spk_hi, D_spk_lo), (D_pk2_t, D_pk2_hi, D_pk2_lo)]),
}

for k, p in panels.items():
    assert len(p[2]) == len(p[3]) == len(p[4]), (k, "body", len(p[2]), len(p[3]), len(p[4]))
    for s in p[5]:
        assert len(s[0]) == len(s[1]) == len(s[2]), (k, "peaks", len(s[0]), len(s[1]), len(s[2]))

fig = make_subplots(rows=2, cols=2)

for name, (row, col, bt, bh, bl, peak_sets) in panels.items():
    # dense part of the signal as a filled envelope
    fig.add_trace(go.Scatter(x=bt + bt[::-1], y=bh + bl[::-1], fill="toself",
                             fillcolor=BLUE, mode="lines",
                             line=dict(color=BLUE, width=1.8), hoverinfo="skip"),
                  row=row, col=col)
    # individual peaks
    for st, sh, sl in peak_sets:
        xs, ys = [], []
        for t, h, l in zip(st, sh, sl):
            xs += [t, t, None]
            ys += [h, l, None]
        fig.add_trace(go.Scatter(x=xs, y=ys, mode="lines",
                                 line=dict(color=BLUE, width=3), hoverinfo="skip"),
                      row=row, col=col)

left_dom = [0.0477, 0.4540]
right_dom = [0.5820, 0.9893]
top_dom = [0.5563, 0.9212]
bot_dom = [0.0501, 0.4155]
doms = {"A": (left_dom, top_dom), "B": (right_dom, top_dom),
        "C": (left_dom, bot_dom), "D": (right_dom, bot_dom)}

common = dict(showline=True, linecolor=AXIS, linewidth=2.5, mirror="ticks",
              ticks="inside", ticklen=10, tickwidth=2, tickcolor=AXIS,
              showgrid=False, zeroline=False)

for name, (row, col, *_rest) in panels.items():
    xd, yd = doms[name]
    fig.update_xaxes(domain=xd, range=x_ranges[name], tickvals=x_ticks[name],
                     ticktext=[str(v) for v in x_ticks[name]],
                     tickfont=dict(family="Open Sans", size=54, color="black"),
                     ticklabelshift=-24 if name == "A" else 0,
                     ticklabelstandoff=3,
                     row=row, col=col, **common)
    fig.update_yaxes(domain=yd, range=y_ranges[name], tickvals=y_ticks[name],
                     ticktext=["%g" % v for v in y_ticks[name]],
                     tickfont=dict(family="Open Sans", size=48, color="black"),
                     row=row, col=col, **common)

    fig.add_annotation(text="<b>( %s )</b>" % name, xref="paper", yref="paper",
                       x=(xd[0] + xd[1]) / 2, y=0.976 if row == 1 else 0.4625,
                       xanchor="center", yanchor="middle", showarrow=False,
                       font=dict(family="Noto Sans", size=56, color="black"))

fig.update_layout(width=3084, height=1757, margin=dict(l=0, r=0, t=0, b=0),
                  paper_bgcolor="white", plot_bgcolor="white", showlegend=False)

fig.write_html("out.html")
